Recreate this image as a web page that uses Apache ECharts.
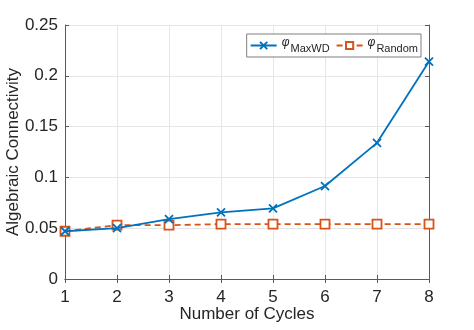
<!DOCTYPE html>
<html>
<head>
<meta charset="utf-8">
<script src="https://cdn.jsdelivr.net/npm/echarts@6/dist/echarts.min.js"></script>
<style>
  html, body { margin: 0; padding: 0; background: #fff; }
  #chart { width: 474px; height: 330px; }
</style>
</head>
<body>
<div id="chart"></div>
<script>
// Number of cycles on the x axis
const cycles = [1, 2, 3, 4, 5, 6, 7, 8];
// Algebraic connectivity for each placement strategy
const maxWD = [0.047, 0.050, 0.059, 0.0655, 0.0695, 0.0915, 0.134, 0.214];
const random = [0.047, 0.053, 0.053, 0.054, 0.054, 0.054, 0.054, 0.054];
// Legend entries: subscripts of the phi symbol
const seriesNames = ['MaxWD', 'Random'];

const FONT = '"Liberation Sans", Arial, sans-serif';
const TXT = '#262626';
const AXIS = '#5a5a5a';
const GRIDC = '#e6e6e6';

const chart = echarts.init(document.getElementById('chart'), null, { renderer: 'canvas' });

const baseX = {
  type: 'value', min: 1, max: 8, interval: 1,
  axisLine: { lineStyle: { color: AXIS, width: 1 } },
  axisTick: { inside: true, length: 4, lineStyle: { color: AXIS } },
};
const baseY = {
  type: 'value', min: 0, max: 0.25, interval: 0.05,
  axisLine: { show: true, lineStyle: { color: AXIS, width: 1 } },
  axisTick: { show: true, inside: true, length: 4, lineStyle: { color: AXIS } },
};

chart.setOption({
  animation: false,
  backgroundColor: '#fff',
  grid: { left: 65, right: 45, top: 25, bottom: 51, containLabel: false, outerBoundsMode: 'none' },
  legend: {
    data: seriesNames,
    right: 53, top: 34,
    orient: 'horizontal',
    itemWidth: 26, itemHeight: 9,
    itemGap: 6,
    padding: [3, 3, 3, 3],
    backgroundColor: '#fff',
    borderColor: '#7f7f7f', borderWidth: 1, borderRadius: 0,
    formatter: function (n) { return '{p|\u03C6}{s|' + n + '}'; },
    textStyle: {
      fontFamily: FONT, color: TXT,
      rich: {
        p: { fontSize: 12, fontStyle: 'italic', fontFamily: FONT, color: TXT, padding: [0, 1, 5, 0] },
        s: { fontSize: 11, fontFamily: FONT, color: TXT, padding: [6, 0, 0, 0] }
      }
    }
  },
  xAxis: [
    Object.assign({}, baseX, {
      position: 'bottom',
      name: 'Number of Cycles', nameLocation: 'middle', nameGap: 27, nameMoveOverlap: false,
      nameTextStyle: { fontFamily: FONT, fontSize: 17, color: TXT },
      axisLabel: { fontFamily: FONT, fontSize: 17, color: TXT, margin: 10 },
      splitLine: { show: true, lineStyle: { color: GRIDC, width: 1 } }
    }),
    Object.assign({}, baseX, {
      position: 'top',
      axisLabel: { show: false },
      splitLine: { show: false }
    })
  ],
  yAxis: [
    Object.assign({}, baseY, {
      position: 'left',
      name: 'Algebraic Connectivity', nameLocation: 'middle', nameGap: 43, nameMoveOverlap: false,
      nameTextStyle: { fontFamily: FONT, fontSize: 17, color: TXT },
      axisLabel: { fontFamily: FONT, fontSize: 17, color: TXT, margin: 7 },
      splitLine: { show: true, lineStyle: { color: GRIDC, width: 1 } }
    }),
    Object.assign({}, baseY, {
      position: 'right',
      axisLabel: { show: false },
      splitLine: { show: false }
    })
  ],
  series: [
    {
      name: seriesNames[0], type: 'line',
      data: cycles.map((c, i) => [c, maxWD[i]]),
      symbol: 'path://M-1,-1L1,1M-1,1L1,-1', symbolSize: 8,
      lineStyle: { color: '#0072BD', width: 1.8 },
      itemStyle: { color: 'transparent', borderColor: '#0072BD', borderWidth: 1.8 },
      z: 3
    },
    {
      name: seriesNames[1], type: 'line',
      data: cycles.map((c, i) => [c, random[i]]),
      symbol: 'rect', symbolSize: 9,
      lineStyle: { color: '#D95319', width: 1.8, type: [6, 4] },
      itemStyle: { color: '#fff', borderColor: '#D95319', borderWidth: 1.8 },
      z: 2
    }
  ]
});
</script>
</body>
</html>
